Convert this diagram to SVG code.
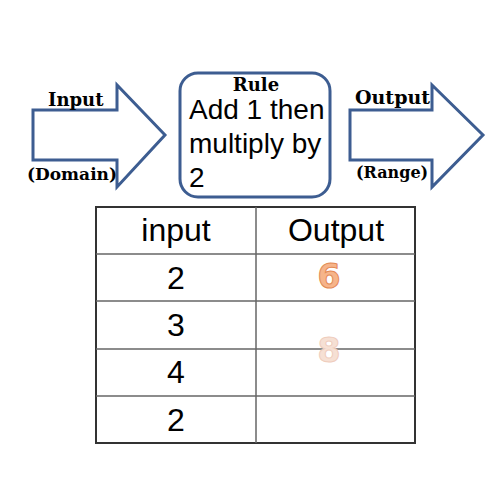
<svg xmlns="http://www.w3.org/2000/svg" width="500" height="500" viewBox="0 0 500 500">
<style>
.blk{fill:#fff;stroke:#3d5d91;stroke-width:3;stroke-linejoin:miter}
.lbl{font-family:"DejaVu Serif","Liberation Serif",serif;font-weight:bold;font-size:18px;fill:#000}
.rule{font-family:"Liberation Sans",Arial,sans-serif;font-size:28px;fill:#000}
.cell{font-family:"Liberation Sans",Arial,sans-serif;font-size:32px;fill:#000;text-anchor:middle}
.grid{stroke:#666;stroke-width:1.5}
.num{font-family:"DejaVu Sans",sans-serif;font-weight:bold;font-size:33px;text-anchor:middle;stroke-width:1}
</style>
<rect width="500" height="500" fill="#fff"/>
<g id="input-arrow">
<polygon class="blk" points="33,110 117,110 117,85 165,135 117,187 117,160 33,160"/>
<text class="lbl" x="48" y="106">Input</text>
<text class="lbl" x="27" y="180" style="font-size:17px">(Domain)</text>
</g>
<g id="rule">
<rect class="blk" x="180" y="73" width="150" height="124" rx="18"/>
<text class="lbl" x="256" y="91" text-anchor="middle">Rule</text>
<text class="rule" x="189" y="119">Add 1 then</text>
<text class="rule" x="189" y="153">multiply by</text>
<text class="rule" x="189" y="187">2</text>
</g>
<g id="output-arrow">
<polygon class="blk" points="350,110 432,110 432,85 483,135 432,187 432,160 350,160"/>
<text class="lbl" x="355" y="104" style="font-size:19px">Output</text>
<text class="lbl" x="356" y="178" style="font-size:16px">(Range)</text>
</g>
<g id="table">
<rect x="96" y="207" width="319" height="236" fill="#fff" stroke="#333" stroke-width="2"/>
<line class="grid" x1="256" y1="207" x2="256" y2="443"/>
<line class="grid" x1="96" y1="254" x2="415" y2="254"/>
<line class="grid" x1="96" y1="301" x2="415" y2="301"/>
<line class="grid" x1="96" y1="349" x2="415" y2="349"/>
<line class="grid" x1="96" y1="396" x2="415" y2="396"/>
<text class="cell" x="176" y="241">input</text>
<text class="cell" x="336" y="241">Output</text>
<text class="cell" x="176" y="289">2</text>
<text class="cell" x="176" y="336">3</text>
<text class="cell" x="176" y="383">4</text>
<text class="cell" x="176" y="431">2</text>
<text class="num" x="329" y="288" fill="#f6b48a" stroke="#e38a55">6</text>
<text class="num" x="329" y="362" fill="#f6e0d4" stroke="#efcdbd">8</text>
</g>
</svg>
